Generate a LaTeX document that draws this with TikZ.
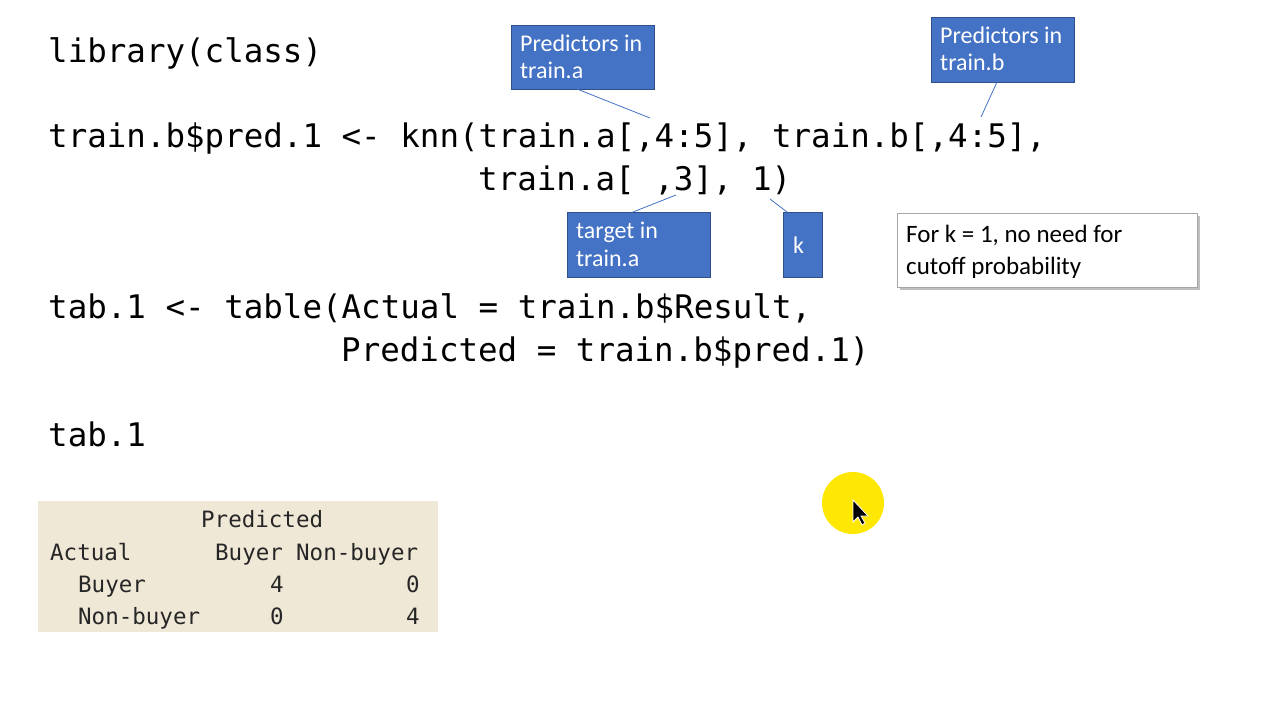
\documentclass[tikz,border=0pt]{standalone}
\usepackage{fontspec}
\setmonofont{DejaVu Sans Mono}
\setsansfont{Carlito}
\definecolor{cblue}{RGB}{68,114,196}
\definecolor{beige}{RGB}{240,232,214}
\begin{document}
\begin{tikzpicture}[x=1pt,y=-1pt,
  code/.style={anchor=base west,inner sep=0pt,font=\ttfamily\fontsize{32.5}{36}\selectfont},
  tab/.style={anchor=base west,inner sep=0pt,font=\ttfamily\fontsize{22.5}{26}\selectfont,text=black!85},
  callout/.style={draw=cblue!70!black,fill=cblue},
  ctext/.style={text=white,font=\sffamily\fontsize{24}{28}\selectfont,anchor=base west,inner sep=0pt},
  btext/.style={font=\sffamily\fontsize{25}{28}\selectfont,anchor=base west,inner sep=0pt},
  lead/.style={draw=cblue,line width=0.8pt}]
\useasboundingbox (0,0) rectangle (1280,720);
\fill[white] (0,0) rectangle (1280,720);
\node[code] (l1) at (48,62) {library(class)};
\node[code] (l2) at (48,147) {train.b\$pred.1 <- knn(train.a[,4:5], train.b[,4:5],};
\node[code] (l3) at (478,190) {train.a[ ,3], 1)};
\node[code] (l4) at (48,318) {tab.1 <- table(Actual = train.b\$Result,};
\node[code] (l5) at (341,361) {Predicted = train.b\$pred.1)};
\node[code] (l6) at (48,446) {tab.1};
% callouts
\path[callout] (511,25) rectangle (654,89);
\node[ctext] (c1) at (520,51) {Predictors in};
\node[ctext] (c1b) at (520,78) {train.a};
\path[callout] (931,17) rectangle (1074,82);
\node[ctext] (c2) at (940,43) {Predictors in};
\node[ctext] (c2b) at (940,70) {train.b};
\path[callout] (567,212) rectangle (710,277);
\node[ctext] (c3) at (576,238) {target in};
\node[ctext] (c3b) at (576,266) {train.a};
\path[callout] (783,212) rectangle (822,277);
\node[ctext] (c4) at (793,253) {k};
\coordinate (p1) at (650,118); \coordinate (s1) at (577,89);
\coordinate (p2) at (981,117); \coordinate (s2) at (997,82);
\coordinate (p3) at (676,195); \coordinate (s3) at (633,212);
\coordinate (p4) at (770,199); \coordinate (s4) at (787,212);
\draw[lead] (s1) -- (p1); \draw[lead] (s2) -- (p2);
\draw[lead] (s3) -- (p3); \draw[lead] (s4) -- (p4);
\fill[black!25] (900,216) rectangle (1200,290);
\draw[black!35,fill=white] (897,213) rectangle (1197,287);
\node[btext] (c5) at (906,242) {For k = 1, no need for};
\node[btext] (c5b) at (906,274) {cutoff probability};
% table
\fill[beige] (38,501) rectangle (438,632);
\node[tab] (t1) at (201,527) {Predicted};
\node[tab] (t2) at (50,560) {Actual};
\node[tab] (t3) at (215,560) {Buyer};
\node[tab] (t4) at (296,560) {Non-buyer};
\node[tab] (t5) at (78,592) {Buyer};
\node[tab] (t6) at (270,592) {4};
\node[tab] (t7) at (406,592) {0};
\node[tab] (t8) at (78,624) {Non-buyer};
\node[tab] (t9) at (270,624) {0};
\node[tab] (t10) at (406,624) {4};
% cursor
\fill[yellow!90!orange] (853,503) circle (31);
\draw[fill=black,draw=white,line width=0.8pt] (853,500) -- (853,522) -- (858,517) -- (862,525) -- (865,523) -- (861,516) -- (868,516) -- cycle;
\end{tikzpicture}
\end{document}
